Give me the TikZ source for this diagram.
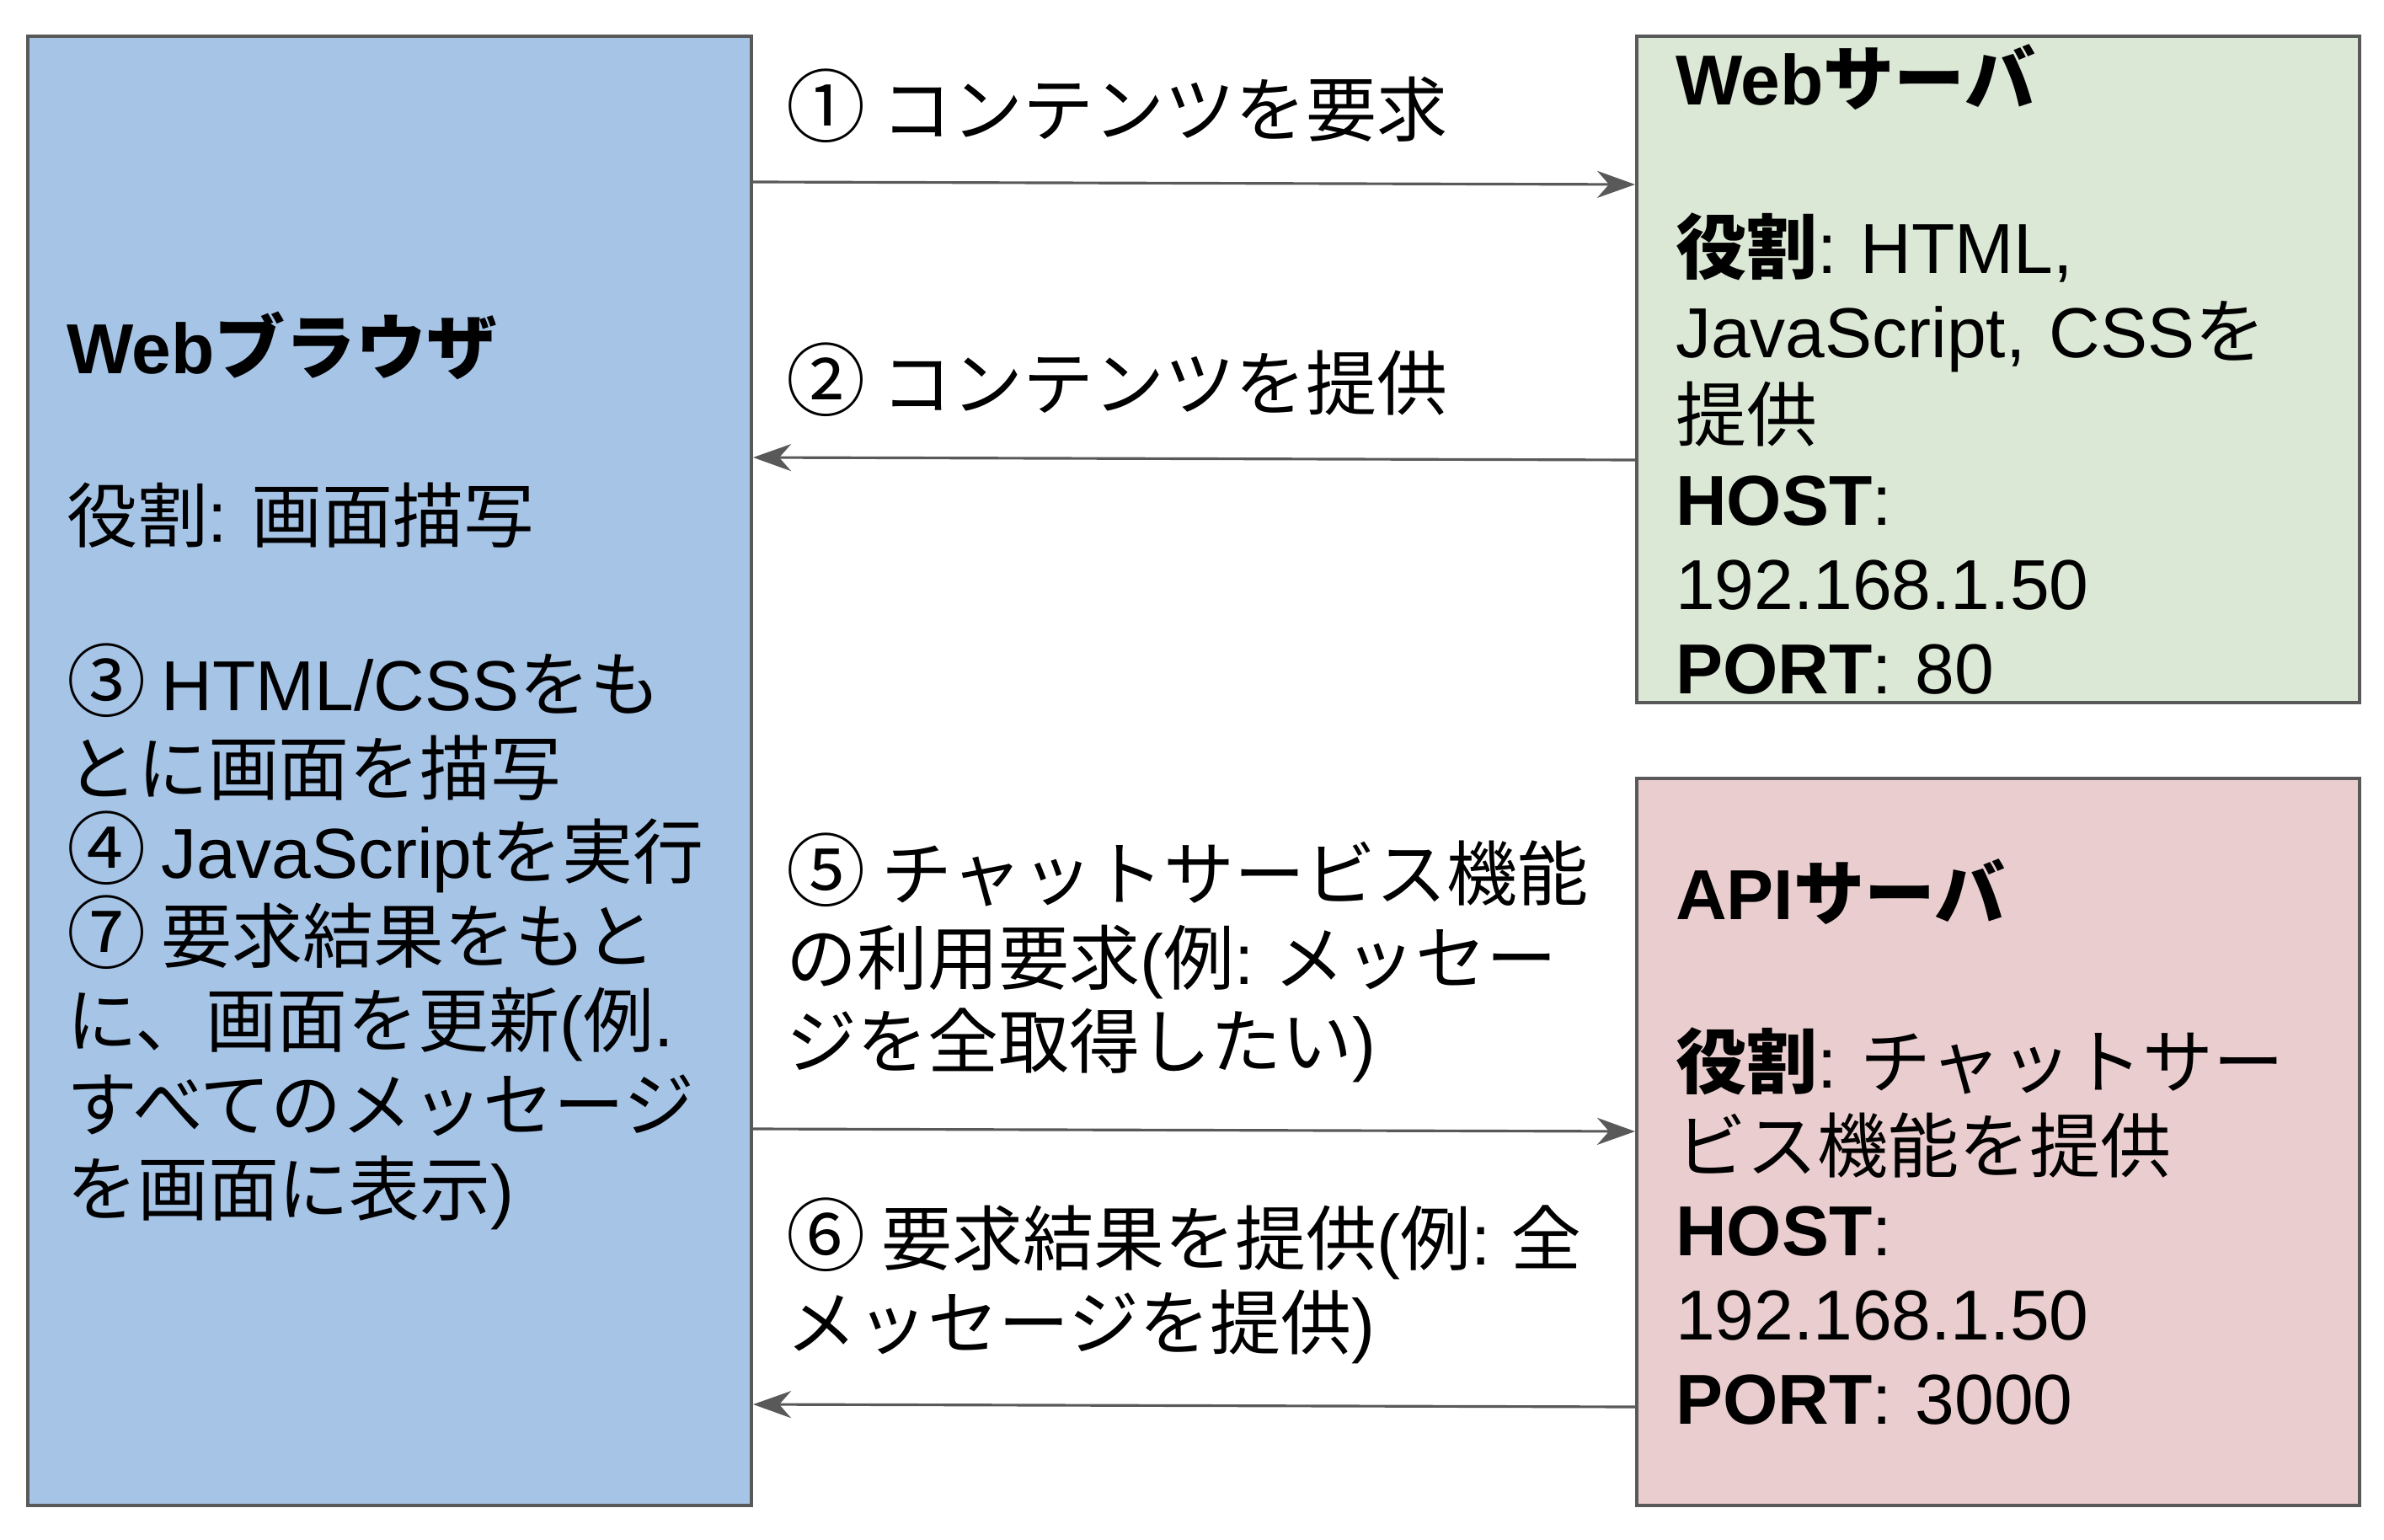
\documentclass[tikz,border=0pt]{standalone}
\usepackage{fontspec}
\setmainfont{Liberation Sans}
\newfontfamily\jpfont{Noto Sans CJK JP}
\newcommand{\ja}[1]{{\jpfont #1}}
\newcommand{\num}[1]{{\jpfont\fontsize{26.8}{28.4}\selectfont #1}\nobreak\hspace{0.22em}}
\usepackage{tikz}
\usetikzlibrary{arrows.meta}

\definecolor{browserblue}{RGB}{166,196,230}
\definecolor{webgreen}{RGB}{219,232,213}
\definecolor{apipink}{RGB}{234,205,206}
\definecolor{edgegray}{RGB}{89,89,89}

\frenchspacing
\begin{document}
\begin{tikzpicture} [x=1cm,y=-1cm,
  txt/.style={font=\fontsize{23.9}{28.4}\selectfont\frenchspacing, text=black},
  box/.style={txt, draw=edgegray, line width=1.15pt, rectangle, align=left,
    inner xsep=0.46cm, inner ysep=0pt, anchor=center},
  flow/.style={draw=edgegray, line width=0.9pt,
    -{Stealth[length=0.45cm,width=0.32cm,inset=0.14cm]}},
  lbl/.style={txt, align=left, inner sep=0pt, anchor=west}]

\useasboundingbox (0,0) rectangle (28.30,18.28);

\node[box, fill=browserblue, minimum width=8.59cm, minimum height=17.44cm,
  text width=7.67cm] (browser) at (4.625,9.15)
  {\textbf{Web\ja{ブラウザ}}\\ ~\\
   \ja{役割}: \ja{画面描写}\\ ~\\
   \num{③}HTML/CSS\ja{をも}\\
   \ja{とに画面を描写}\\
   \mbox{\num{④}JavaScript\ja{を実行}}\\
   \num{⑦}\ja{要求結果をもと}\\
   \ja{に、画面を更新}(\ja{例}.\\
   \ja{すべてのメッセージ}\\
   \ja{を画面に表示})};

\node[box, fill=webgreen, minimum width=8.58cm, minimum height=7.91cm,
  text width=7.66cm] (web) at (23.72,4.385)
  {\textbf{Web\ja{サーバ}}\\ ~\\
   \textbf{\ja{役割}}: HTML,\\
   JavaScript, CSS\ja{を}\\
   \ja{提供}\\
   \textbf{HOST}:\\
   192.168.1.50\\
   \textbf{PORT}: 80};

\node[box, fill=apipink, minimum width=8.58cm, minimum height=8.63cm,
  text width=7.66cm] (api) at (23.72,13.555)
  {\textbf{API\ja{サーバ}}\\ ~\\
   \textbf{\ja{役割}}: \ja{チャットサー}\\
   \ja{ビス機能を提供}\\
   \textbf{HOST}:\\
   192.168.1.50\\
   \textbf{PORT}: 3000};

% requests and responses
\draw[flow] (browser.east |- 0,2.16) -- (web.west |- 0,2.19);
\draw[flow] (web.west |- 0,5.46) -- (browser.east |- 0,5.43);
\draw[flow] (browser.east |- 0,13.40) -- (api.west |- 0,13.43);
\draw[flow] (api.west |- 0,16.70) -- (browser.east |- 0,16.67);

\node[lbl] (req) at (9.33,1.26) {\num{①}\ja{コンテンツを要求}};
\node[lbl] (res) at (9.33,4.51) {\num{②}\ja{コンテンツを提供}};
\node[lbl] (apireq) at (9.33,11.37)
  {\num{⑤}\ja{チャットサービス機能}\\
   \ja{の利用要求}(\ja{例}: \ja{メッセー}\\
   \ja{ジを全取得したい})};
\node[lbl] (apires) at (9.33,15.20)
  {\num{⑥}\ja{要求結果を提供}(\ja{例}: \ja{全}\\
   \ja{メッセージを提供})};

\end{tikzpicture}
\end{document}
